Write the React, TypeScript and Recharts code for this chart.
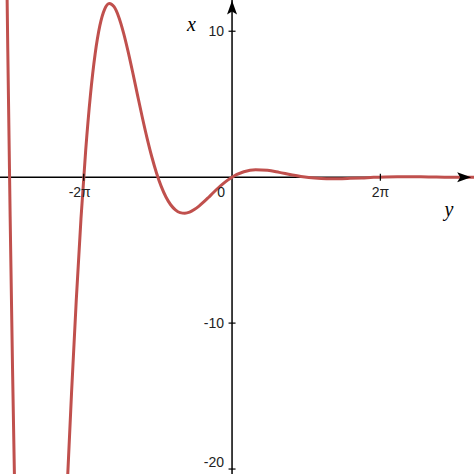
import React from 'react';
import { LineChart, Line, XAxis, YAxis, ReferenceLine, ReferenceDot } from 'recharts';

// horizontal variable (labelled "y") and vertical variable (labelled "x")
const hValues = [
  -9.8, -9.7, -9.6, -9.5, -9.4, -9.3, -9.2, -9.0, -8.8, -8.4, -8.0, -7.6, -7.4, -7.2, -7.0,
  -6.8, -6.6, -6.4, -6.2, -6.0, -5.8, -5.6, -5.4, -5.2, -5.0, -4.8, -4.6, -4.4, -4.2, -4.0,
  -3.8, -3.6, -3.4, -3.2, -3.0, -2.8, -2.6, -2.4, -2.2, -2.0, -1.8, -1.6, -1.4, -1.2, -1.0,
  -0.8, -0.6, -0.4, -0.2, 0, 0.5, 1.0, 1.5, 2.0, 2.5, 3.0, 3.5, 4.0, 4.5, 5.0, 5.5, 6.0,
  6.5, 7.0, 7.5, 8.0, 8.5, 9.0, 9.5, 10.0, 10.5,
];
const vValues = [
  49.2, 34.72, 21.18, 8.69, -2.73, -13.02, -22.17, -37.1, -47.64, -56.99, -54.02, -43.27, -36.35, -29.05, -21.76,
  -14.81, -8.45, -2.86, 1.84, 5.61, 8.44, 10.38, 11.5, 11.9, 11.68, 10.98, 9.91, 8.59, 7.12, 5.59,
  4.09, 2.68, 1.4, 0.29, -0.63, -1.36, -1.89, -2.24, -2.43, -2.47, -2.4, -2.22, -1.98, -1.7, -1.39,
  -1.07, -0.76, -0.48, -0.22, 0, 0.37, 0.51, 0.47, 0.33, 0.17, 0.03, -0.06, -0.1, -0.1, -0.08, -0.05, -0.01,
  0.01, 0.02, 0.02, 0.02, 0.01, 0.0, 0.0, 0.0, 0.0,
];

const hTicks = [-2 * Math.PI, 0, 2 * Math.PI];
const hTickLabels = ['-2π', '0', '2π'];
const vTicks = [10, -10, -20];
const vTickLabels = ['10', '-10', '-20'];

const hDomain = [-9.83, 10.25];
const vDomain = [-20.34, 12.14];

const data = hValues.map((h, i) => ({ h, v: vValues[i] }));

const FONT = '"Liberation Sans", Arial, sans-serif';
const SERIF = '"Liberation Serif", "Times New Roman", serif';

const hTickShape = (label: string, i: number) => (props: any) => {
  const { cx, cy } = props;
  const isZero = label === '0';
  return (
    <g>
      {!isZero && <line x1={cx} y1={cy - 3.5} x2={cx} y2={cy + 3.5} stroke="#000" strokeWidth={1.2} />}
      <text
        x={isZero ? cx - 7 : label.startsWith('-') ? cx - 4 : cx}
        y={cy + 19.5}
        textAnchor={isZero ? 'end' : 'middle'}
        fontSize={14}
        fontFamily={FONT}
        fill="#222"
      >
        {label}
      </text>
    </g>
  );
};

const vTickShape = (label: string, i: number) => (props: any) => {
  const { cx, cy } = props;
  const dy = label === '-20' ? -2.5 : 5;
  return (
    <g>
      <line x1={cx - 3.5} y1={cy} x2={cx + 3.5} y2={cy} stroke="#000" strokeWidth={1.2} />
      <text x={cx - 8} y={cy + dy} textAnchor="end" fontSize={14} fontFamily={FONT} fill="#222">
        {label}
      </text>
    </g>
  );
};

const rightArrow = (props: any) => {
  const { cx, cy } = props;
  return <path d={`M${cx},${cy} L${cx - 14},${cy - 5} L${cx - 11},${cy} L${cx - 14},${cy + 5} Z`} fill="#000" />;
};
const topArrow = (props: any) => {
  const { cx, cy } = props;
  return <path d={`M${cx},${cy} L${cx - 5},${cy + 14} L${cx},${cy + 11} L${cx + 5},${cy + 14} Z`} fill="#000" />;
};

const axisLabel = (label: string) => (props: any) => {
  const { cx, cy } = props;
  return (
    <text x={cx} y={cy} textAnchor="middle" fontSize={20} fontStyle="italic" fontFamily={SERIF} fill="#000">
      {label}
    </text>
  );
};

export default function App() {
  return (
    <div style={{ position: 'absolute', left: 0, top: 0, width: 474, height: 474, background: '#fff' }}>
      <LineChart width={474} height={474} data={data} margin={{ top: 0, right: 0, bottom: 0, left: 0 }}>
        <XAxis dataKey="h" type="number" domain={hDomain} hide allowDataOverflow />
        <YAxis dataKey="v" type="number" domain={vDomain} hide allowDataOverflow />
        <ReferenceLine x={0} stroke="#000" strokeWidth={1.5} />
        <ReferenceLine y={0} stroke="#000" strokeWidth={1.5} />
        {hTicks.map((t, i) => (
          <ReferenceDot key={'h' + i} x={t} y={0} ifOverflow="visible" shape={hTickShape(hTickLabels[i], i)} />
        ))}
        {vTicks.map((t, i) => (
          <ReferenceDot key={'v' + i} x={0} y={t} ifOverflow="visible" shape={vTickShape(vTickLabels[i], i)} />
        ))}
        <ReferenceDot x={10.13} y={0} ifOverflow="visible" shape={rightArrow} />
        <ReferenceDot x={0} y={12.1} ifOverflow="visible" shape={topArrow} />
        <ReferenceDot x={-1.72} y={10} ifOverflow="visible" shape={axisLabel('x')} />
        <ReferenceDot x={9.19} y={-2.65} ifOverflow="visible" shape={axisLabel('y')} />
        <Line
          dataKey="v"
          type="monotone"
          stroke="#c0504d"
          strokeWidth={3}
          dot={false}
          isAnimationActive={false}
        />
      </LineChart>
    </div>
  );
}
